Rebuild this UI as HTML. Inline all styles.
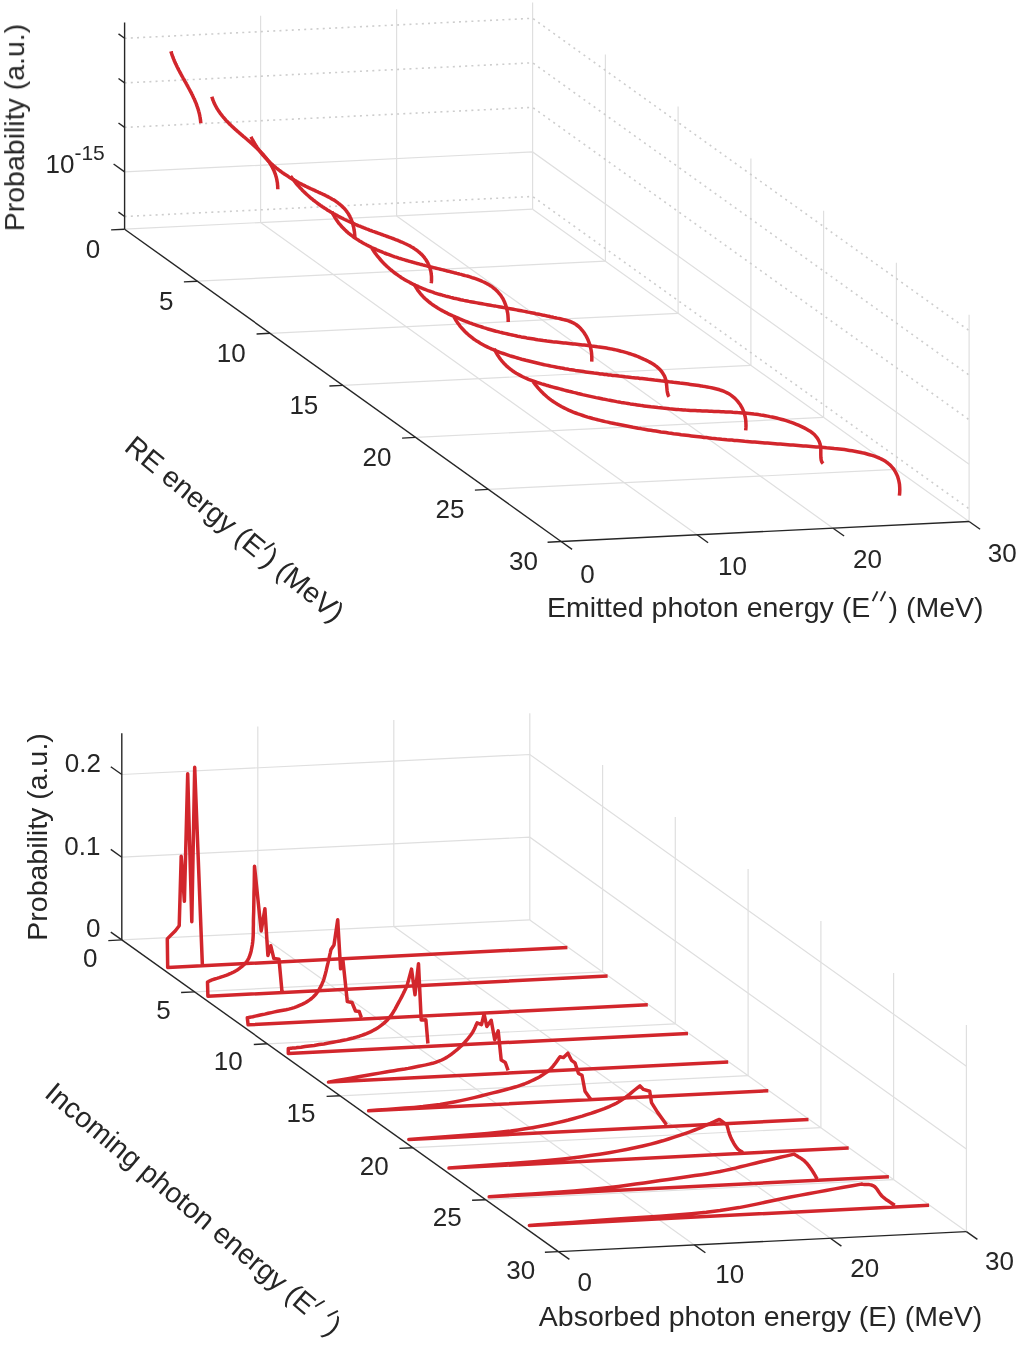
<!DOCTYPE html>
<html><head><meta charset="utf-8"><style>
html,body{margin:0;padding:0;background:#fff;}
svg{display:block;font-family:"Liberation Sans",sans-serif;}
</style></head><body>
<svg width="1020" height="1346" viewBox="0 0 1020 1346">
<rect width="1020" height="1346" fill="#fff"/>
<g>
<line x1="124.6" y1="229.2" x2="532.6" y2="209.2" stroke="#dfdfdf" stroke-width="1.2" />
<line x1="197.3" y1="281.2" x2="605.4" y2="261.2" stroke="#dfdfdf" stroke-width="1.2" />
<line x1="270.1" y1="333.3" x2="678.1" y2="313.3" stroke="#dfdfdf" stroke-width="1.2" />
<line x1="342.9" y1="385.4" x2="750.9" y2="365.3" stroke="#dfdfdf" stroke-width="1.2" />
<line x1="415.6" y1="437.4" x2="823.6" y2="417.4" stroke="#dfdfdf" stroke-width="1.2" />
<line x1="488.4" y1="489.4" x2="896.4" y2="469.4" stroke="#dfdfdf" stroke-width="1.2" />
<line x1="260.6" y1="222.5" x2="697.1" y2="534.8" stroke="#dfdfdf" stroke-width="1.2" />
<line x1="396.6" y1="215.9" x2="833.1" y2="528.2" stroke="#dfdfdf" stroke-width="1.2" />
<line x1="532.6" y1="209.2" x2="969.1" y2="521.5" stroke="#dfdfdf" stroke-width="1.2" />
<line x1="260.6" y1="222.5" x2="260.6" y2="15.8" stroke="#dfdfdf" stroke-width="1.2" />
<line x1="396.6" y1="215.9" x2="396.6" y2="9.2" stroke="#dfdfdf" stroke-width="1.2" />
<line x1="532.6" y1="209.2" x2="532.6" y2="2.5" stroke="#dfdfdf" stroke-width="1.2" />
<line x1="605.4" y1="261.2" x2="605.4" y2="54.5" stroke="#dfdfdf" stroke-width="1.2" />
<line x1="678.1" y1="313.3" x2="678.1" y2="106.6" stroke="#dfdfdf" stroke-width="1.2" />
<line x1="750.9" y1="365.3" x2="750.9" y2="158.6" stroke="#dfdfdf" stroke-width="1.2" />
<line x1="823.6" y1="417.4" x2="823.6" y2="210.7" stroke="#dfdfdf" stroke-width="1.2" />
<line x1="896.4" y1="469.4" x2="896.4" y2="262.7" stroke="#dfdfdf" stroke-width="1.2" />
<line x1="969.1" y1="521.5" x2="969.1" y2="314.8" stroke="#dfdfdf" stroke-width="1.2" />
<polyline points="124.6,171.9 532.6,151.9 969.1,464.2" fill="none" stroke="#dfdfdf" stroke-width="1.2" />
<polyline points="124.6,216.5 532.6,196.5 969.1,508.8" fill="none" stroke="#cdcdcd" stroke-width="1.6" stroke-dasharray="2 4.2"/>
<polyline points="124.6,127.4 532.6,107.4 969.1,419.7" fill="none" stroke="#cdcdcd" stroke-width="1.6" stroke-dasharray="2 4.2"/>
<polyline points="124.6,82.9 532.6,62.8 969.1,375.1" fill="none" stroke="#cdcdcd" stroke-width="1.6" stroke-dasharray="2 4.2"/>
<polyline points="124.6,38.3 532.6,18.3 969.1,330.6" fill="none" stroke="#cdcdcd" stroke-width="1.6" stroke-dasharray="2 4.2"/>
<line x1="121.8" y1="939.9" x2="529.8" y2="919.9" stroke="#dfdfdf" stroke-width="1.2" />
<line x1="194.6" y1="991.9" x2="602.6" y2="971.8" stroke="#dfdfdf" stroke-width="1.2" />
<line x1="267.3" y1="1043.8" x2="675.3" y2="1023.8" stroke="#dfdfdf" stroke-width="1.2" />
<line x1="340.1" y1="1095.8" x2="748.1" y2="1075.7" stroke="#dfdfdf" stroke-width="1.2" />
<line x1="412.9" y1="1147.7" x2="820.9" y2="1127.7" stroke="#dfdfdf" stroke-width="1.2" />
<line x1="485.6" y1="1199.7" x2="893.6" y2="1179.6" stroke="#dfdfdf" stroke-width="1.2" />
<line x1="257.8" y1="933.2" x2="694.4" y2="1244.9" stroke="#dfdfdf" stroke-width="1.2" />
<line x1="393.8" y1="926.6" x2="830.4" y2="1238.3" stroke="#dfdfdf" stroke-width="1.2" />
<line x1="529.8" y1="919.9" x2="966.4" y2="1231.6" stroke="#dfdfdf" stroke-width="1.2" />
<line x1="257.8" y1="933.2" x2="257.8" y2="726.5" stroke="#dfdfdf" stroke-width="1.2" />
<line x1="393.8" y1="926.6" x2="393.8" y2="719.9" stroke="#dfdfdf" stroke-width="1.2" />
<line x1="529.8" y1="919.9" x2="529.8" y2="713.2" stroke="#dfdfdf" stroke-width="1.2" />
<line x1="602.6" y1="971.8" x2="602.6" y2="765.1" stroke="#dfdfdf" stroke-width="1.2" />
<line x1="675.3" y1="1023.8" x2="675.3" y2="817.1" stroke="#dfdfdf" stroke-width="1.2" />
<line x1="748.1" y1="1075.7" x2="748.1" y2="869.0" stroke="#dfdfdf" stroke-width="1.2" />
<line x1="820.9" y1="1127.7" x2="820.9" y2="921.0" stroke="#dfdfdf" stroke-width="1.2" />
<line x1="893.6" y1="1179.6" x2="893.6" y2="972.9" stroke="#dfdfdf" stroke-width="1.2" />
<line x1="966.4" y1="1231.6" x2="966.4" y2="1024.9" stroke="#dfdfdf" stroke-width="1.2" />
<polyline points="121.8,857.2 529.8,837.2 966.4,1148.9" fill="none" stroke="#dfdfdf" stroke-width="1.2" />
<polyline points="121.8,774.5 529.8,754.5 966.4,1066.2" fill="none" stroke="#dfdfdf" stroke-width="1.2" />
<line x1="124.6" y1="229.2" x2="124.6" y2="22.5" stroke="#262626" stroke-width="1.4" />
<line x1="124.6" y1="229.2" x2="561.1" y2="541.5" stroke="#262626" stroke-width="1.4" />
<line x1="561.1" y1="541.5" x2="969.1" y2="521.5" stroke="#262626" stroke-width="1.4" />
<line x1="124.6" y1="229.2" x2="111.1" y2="229.9" stroke="#262626" stroke-width="1.4" />
<line x1="197.3" y1="281.2" x2="183.9" y2="281.9" stroke="#262626" stroke-width="1.4" />
<line x1="270.1" y1="333.3" x2="256.6" y2="334.0" stroke="#262626" stroke-width="1.4" />
<line x1="342.9" y1="385.4" x2="329.4" y2="386.0" stroke="#262626" stroke-width="1.4" />
<line x1="415.6" y1="437.4" x2="402.1" y2="438.1" stroke="#262626" stroke-width="1.4" />
<line x1="488.4" y1="489.4" x2="474.9" y2="490.1" stroke="#262626" stroke-width="1.4" />
<line x1="561.1" y1="541.5" x2="547.6" y2="542.2" stroke="#262626" stroke-width="1.4" />
<line x1="561.1" y1="541.5" x2="572.1" y2="549.4" stroke="#262626" stroke-width="1.4" />
<line x1="697.1" y1="534.8" x2="708.1" y2="542.7" stroke="#262626" stroke-width="1.4" />
<line x1="833.1" y1="528.2" x2="844.1" y2="536.0" stroke="#262626" stroke-width="1.4" />
<line x1="969.1" y1="521.5" x2="980.1" y2="529.3" stroke="#262626" stroke-width="1.4" />
<line x1="124.6" y1="171.9" x2="113.6" y2="164.0" stroke="#262626" stroke-width="1.4" />
<line x1="124.6" y1="216.5" x2="118.5" y2="212.1" stroke="#262626" stroke-width="1.4" />
<line x1="124.6" y1="127.4" x2="118.5" y2="123.0" stroke="#262626" stroke-width="1.4" />
<line x1="124.6" y1="82.9" x2="118.5" y2="78.5" stroke="#262626" stroke-width="1.4" />
<line x1="124.6" y1="38.3" x2="118.5" y2="33.9" stroke="#262626" stroke-width="1.4" />
<line x1="121.8" y1="939.9" x2="121.8" y2="733.2" stroke="#262626" stroke-width="1.4" />
<line x1="121.8" y1="939.9" x2="558.4" y2="1251.6" stroke="#262626" stroke-width="1.4" />
<line x1="558.4" y1="1251.6" x2="966.4" y2="1231.6" stroke="#262626" stroke-width="1.4" />
<line x1="121.8" y1="939.9" x2="108.3" y2="940.6" stroke="#262626" stroke-width="1.4" />
<line x1="194.6" y1="991.9" x2="181.1" y2="992.5" stroke="#262626" stroke-width="1.4" />
<line x1="267.3" y1="1043.8" x2="253.8" y2="1044.5" stroke="#262626" stroke-width="1.4" />
<line x1="340.1" y1="1095.8" x2="326.6" y2="1096.4" stroke="#262626" stroke-width="1.4" />
<line x1="412.9" y1="1147.7" x2="399.4" y2="1148.4" stroke="#262626" stroke-width="1.4" />
<line x1="485.6" y1="1199.7" x2="472.1" y2="1200.3" stroke="#262626" stroke-width="1.4" />
<line x1="558.4" y1="1251.6" x2="544.9" y2="1252.3" stroke="#262626" stroke-width="1.4" />
<line x1="558.4" y1="1251.6" x2="569.4" y2="1259.4" stroke="#262626" stroke-width="1.4" />
<line x1="694.4" y1="1244.9" x2="705.4" y2="1252.8" stroke="#262626" stroke-width="1.4" />
<line x1="830.4" y1="1238.3" x2="841.4" y2="1246.1" stroke="#262626" stroke-width="1.4" />
<line x1="966.4" y1="1231.6" x2="977.4" y2="1239.4" stroke="#262626" stroke-width="1.4" />
<line x1="121.8" y1="939.9" x2="110.8" y2="932.1" stroke="#262626" stroke-width="1.4" />
<line x1="121.8" y1="857.2" x2="110.8" y2="849.4" stroke="#262626" stroke-width="1.4" />
<line x1="121.8" y1="774.5" x2="110.8" y2="766.7" stroke="#262626" stroke-width="1.4" />
<g fill="none" stroke="#d2262c" stroke-width="3.5" stroke-linejoin="round" stroke-linecap="butt">
<path d="M170.9,51.3 L171.0,51.8 L171.2,52.2 L171.3,52.7 L171.5,53.2 L171.6,53.6 L171.8,54.1 L171.9,54.6 L172.1,55.0 L172.3,55.5 L172.4,56.0 L172.6,56.4 L172.8,56.9 L173.0,57.3 L173.1,57.8 L173.3,58.3 L173.5,58.7 L173.7,59.2 L173.9,59.6 L174.1,60.1 L174.2,60.5 L174.4,61.0 L174.6,61.4 L174.8,61.9 L175.0,62.4 L175.2,62.8 L175.4,63.3 L175.6,63.7 L175.9,64.1 L176.1,64.6 L176.3,65.0 L176.5,65.5 L176.7,65.9 L176.9,66.4 L177.1,66.8 L177.4,67.3 L177.6,67.7 L177.8,68.1 L178.0,68.6 L178.2,69.0 L178.5,69.5 L178.7,69.9 L178.9,70.3 L179.2,70.8 L179.4,71.2 L179.6,71.7 L179.9,72.1 L180.1,72.5 L180.3,73.0 L180.6,73.4 L180.8,73.8 L181.0,74.3 L181.3,74.7 L181.5,75.1 L181.7,75.6 L182.0,76.0 L182.2,76.4 L182.5,76.9 L182.7,77.3 L183.0,77.7 L183.2,78.2 L183.4,78.6 L183.7,79.0 L183.9,79.5 L184.2,79.9 L184.4,80.3 L184.6,80.8 L184.9,81.2 L185.1,81.6 L185.4,82.1 L185.6,82.5 L185.9,82.9 L186.1,83.4 L186.3,83.8 L186.6,84.2 L186.8,84.7 L187.1,85.1 L187.3,85.5 L187.5,86.0 L187.8,86.4 L188.0,86.8 L188.3,87.3 L188.5,87.7 L188.7,88.1 L189.0,88.6 L189.2,89.0 L189.4,89.4 L189.7,89.9 L189.9,90.3 L190.1,90.8 L190.4,91.2 L190.6,91.6 L190.8,92.1 L191.0,92.5 L191.3,92.9 L191.5,93.4 L191.7,93.8 L191.9,94.3 L192.2,94.7 L192.4,95.1 L192.6,95.6 L192.8,96.0 L193.0,96.5 L193.2,96.9 L193.4,97.4 L193.6,97.8 L193.8,98.3 L194.1,98.7 L194.3,99.1 L194.5,99.6 L194.7,100.0 L194.8,100.5 L195.0,100.9 L195.2,101.4 L195.4,101.8 L195.6,102.3 L195.8,102.7 L196.0,103.2 L196.2,103.7 L196.3,104.1 L196.5,104.6 L196.7,105.0 L196.8,105.5 L197.0,106.0 L197.2,106.4 L197.3,106.9 L197.5,107.3 L197.6,107.8 L197.8,108.3 L198.0,108.7 L198.1,109.2 L198.2,109.7 L198.4,110.1 L198.5,110.6 L198.7,111.1 L198.8,111.6 L198.9,112.0 L199.0,112.5 L199.2,113.0 L199.3,113.5 L199.4,113.9 L199.5,114.4 L199.6,114.9 L199.7,115.4 L199.8,115.9 L199.9,116.4 L200.0,116.9 L200.1,117.3 L200.2,117.8 L200.2,118.3 L200.3,118.8 L200.4,119.3 L200.5,119.8 L200.5,120.3 L200.6,120.8 L200.6,121.3 L200.7,121.8 L200.7,122.3 L200.8,122.8 L200.8,123.3"/>
<path d="M211.8,96.7 L212.0,97.4 L212.3,98.1 L212.5,98.8 L212.7,99.5 L213.0,100.2 L213.3,100.9 L213.6,101.6 L213.8,102.3 L214.1,102.9 L214.4,103.6 L214.8,104.3 L215.1,104.9 L215.4,105.6 L215.8,106.2 L216.1,106.9 L216.5,107.5 L216.8,108.1 L217.2,108.8 L217.6,109.4 L218.0,110.0 L218.4,110.6 L218.8,111.2 L219.2,111.8 L219.6,112.4 L220.0,113.0 L220.4,113.6 L220.9,114.2 L221.3,114.7 L221.8,115.3 L222.2,115.9 L222.7,116.5 L223.1,117.0 L223.6,117.6 L224.1,118.1 L224.6,118.7 L225.0,119.2 L225.5,119.8 L226.0,120.3 L226.5,120.9 L227.0,121.4 L227.6,121.9 L228.1,122.5 L228.6,123.0 L229.1,123.5 L229.6,124.1 L230.2,124.6 L230.7,125.1 L231.2,125.6 L231.8,126.1 L232.3,126.6 L232.9,127.1 L233.4,127.7 L234.0,128.2 L234.5,128.7 L235.1,129.2 L235.6,129.7 L236.2,130.2 L236.8,130.7 L237.3,131.2 L237.9,131.7 L238.5,132.1 L239.0,132.6 L239.6,133.1 L240.2,133.6 L240.7,134.1 L241.3,134.6 L241.9,135.1 L242.5,135.6 L243.0,136.1 L243.6,136.6 L244.2,137.0 L244.8,137.5 L245.3,138.0 L245.9,138.5 L246.5,139.0 L247.1,139.5 L247.6,140.0 L248.2,140.5 L248.8,140.9 L249.3,141.4 L249.9,141.9 L250.5,142.4 L251.0,142.9 L251.6,143.4 L252.2,143.9 L252.7,144.4 L253.3,144.9 L253.8,145.4 L254.4,145.9 L254.9,146.4 L255.5,146.9 L256.0,147.4 L256.5,147.9 L257.1,148.4 L257.6,148.9 L258.1,149.4 L258.7,149.9 L259.2,150.4 L259.7,150.9 L260.2,151.4 L260.7,152.0 L261.2,152.5 L261.7,153.0 L262.2,153.5 L262.7,154.1 L263.2,154.6 L263.7,155.1 L264.1,155.7 L264.6,156.2 L265.1,156.8 L265.5,157.3 L266.0,157.9 L266.4,158.4 L266.9,159.0 L267.3,159.5 L267.7,160.1 L268.1,160.7 L268.6,161.3 L269.0,161.8 L269.4,162.4 L269.8,163.0 L270.1,163.6 L270.5,164.2 L270.9,164.8 L271.2,165.4 L271.6,166.0 L271.9,166.6 L272.3,167.2 L272.6,167.8 L272.9,168.5 L273.2,169.1 L273.5,169.7 L273.8,170.4 L274.1,171.0 L274.4,171.7 L274.6,172.4 L274.9,173.0 L275.1,173.7 L275.4,174.4 L275.6,175.0 L275.8,175.7 L276.0,176.4 L276.2,177.1 L276.4,177.8 L276.6,178.6 L276.7,179.3 L276.9,180.0 L277.0,180.7 L277.1,181.5 L277.3,182.2 L277.4,183.0 L277.5,183.7 L277.5,184.5 L277.6,185.3 L277.7,186.1 L277.7,186.8 L277.7,187.6 L277.8,188.4 L277.8,189.3"/>
<path d="M251.0,136.7 L251.4,137.6 L251.8,138.5 L252.3,139.4 L252.8,140.2 L253.2,141.1 L253.7,142.0 L254.2,142.8 L254.7,143.6 L255.2,144.5 L255.7,145.3 L256.2,146.1 L256.8,146.9 L257.3,147.7 L257.9,148.5 L258.4,149.3 L259.0,150.1 L259.6,150.8 L260.1,151.6 L260.7,152.3 L261.3,153.1 L261.9,153.8 L262.5,154.6 L263.1,155.3 L263.8,156.0 L264.4,156.7 L265.0,157.4 L265.7,158.1 L266.3,158.8 L267.0,159.5 L267.6,160.2 L268.3,160.8 L269.0,161.5 L269.6,162.1 L270.3,162.8 L271.0,163.4 L271.7,164.1 L272.4,164.7 L273.1,165.3 L273.9,165.9 L274.6,166.6 L275.3,167.2 L276.0,167.8 L276.8,168.4 L277.5,169.0 L278.3,169.5 L279.0,170.1 L279.8,170.7 L280.5,171.3 L281.3,171.8 L282.1,172.4 L282.9,172.9 L283.7,173.5 L284.4,174.0 L285.2,174.6 L286.0,175.1 L286.8,175.6 L287.6,176.1 L288.4,176.6 L289.3,177.2 L290.1,177.7 L290.9,178.2 L291.7,178.7 L292.6,179.2 L293.4,179.6 L294.2,180.1 L295.1,180.6 L295.9,181.1 L296.7,181.6 L297.6,182.0 L298.4,182.5 L299.3,183.0 L300.2,183.4 L301.0,183.9 L301.9,184.3 L302.7,184.8 L303.6,185.2 L304.5,185.6 L305.4,186.1 L306.2,186.5 L307.1,186.9 L308.0,187.4 L308.9,187.8 L309.8,188.2 L310.6,188.6 L311.5,189.0 L312.4,189.4 L313.3,189.8 L314.2,190.2 L315.1,190.6 L316.0,191.1 L316.9,191.5 L317.8,191.9 L318.6,192.3 L319.5,192.7 L320.4,193.1 L321.3,193.5 L322.2,193.9 L323.0,194.3 L323.9,194.7 L324.8,195.1 L325.6,195.6 L326.5,196.0 L327.3,196.4 L328.2,196.9 L329.0,197.3 L329.9,197.8 L330.7,198.2 L331.5,198.7 L332.3,199.2 L333.1,199.6 L333.9,200.1 L334.7,200.6 L335.5,201.1 L336.2,201.6 L337.0,202.2 L337.7,202.7 L338.5,203.3 L339.2,203.8 L339.9,204.4 L340.6,205.0 L341.3,205.6 L341.9,206.2 L342.6,206.8 L343.2,207.4 L343.9,208.1 L344.5,208.7 L345.1,209.4 L345.7,210.1 L346.2,210.8 L346.8,211.6 L347.3,212.3 L347.9,213.1 L348.4,213.9 L348.8,214.7 L349.3,215.5 L349.8,216.3 L350.2,217.2 L350.6,218.0 L351.0,218.9 L351.4,219.9 L351.7,220.8 L352.0,221.7 L352.4,222.7 L352.7,223.7 L352.9,224.6 L353.2,225.6 L353.4,226.6 L353.7,227.6 L353.9,228.6 L354.0,229.7 L354.2,230.7 L354.4,231.7 L354.5,232.7 L354.6,233.7 L354.7,234.7 L354.8,235.7 L354.8,236.7 L354.9,237.7 L354.9,238.7"/>
<path d="M290.6,176.1 L291.3,177.0 L292.0,178.0 L292.7,178.9 L293.4,179.9 L294.1,180.8 L294.8,181.7 L295.6,182.7 L296.3,183.6 L297.1,184.5 L297.8,185.3 L298.6,186.2 L299.4,187.1 L300.2,187.9 L301.0,188.8 L301.8,189.6 L302.6,190.5 L303.4,191.3 L304.3,192.1 L305.1,192.9 L306.0,193.7 L306.8,194.5 L307.7,195.3 L308.5,196.0 L309.4,196.8 L310.3,197.6 L311.2,198.3 L312.1,199.0 L313.0,199.8 L313.9,200.5 L314.8,201.2 L315.7,201.9 L316.7,202.6 L317.6,203.3 L318.5,204.0 L319.5,204.7 L320.4,205.4 L321.4,206.0 L322.3,206.7 L323.3,207.3 L324.3,208.0 L325.3,208.6 L326.3,209.2 L327.2,209.9 L328.2,210.5 L329.2,211.1 L330.2,211.7 L331.2,212.3 L332.3,212.9 L333.3,213.5 L334.3,214.0 L335.3,214.6 L336.3,215.2 L337.4,215.7 L338.4,216.3 L339.5,216.8 L340.5,217.4 L341.5,217.9 L342.6,218.4 L343.7,219.0 L344.7,219.5 L345.8,220.0 L346.8,220.5 L347.9,221.0 L349.0,221.5 L350.0,222.0 L351.1,222.5 L352.2,223.0 L353.3,223.4 L354.3,223.9 L355.4,224.4 L356.5,224.8 L357.6,225.3 L358.7,225.8 L359.8,226.2 L360.9,226.7 L362.0,227.1 L363.1,227.5 L364.2,228.0 L365.3,228.4 L366.3,228.8 L367.4,229.2 L368.5,229.6 L369.6,230.1 L370.7,230.5 L371.8,230.9 L372.9,231.3 L374.1,231.7 L375.2,232.1 L376.3,232.5 L377.4,232.9 L378.5,233.3 L379.6,233.7 L380.7,234.1 L381.8,234.5 L382.9,234.9 L384.0,235.3 L385.1,235.7 L386.2,236.1 L387.3,236.5 L388.4,236.9 L389.5,237.3 L390.6,237.7 L391.7,238.1 L392.8,238.5 L393.9,238.9 L395.0,239.4 L396.1,239.8 L397.2,240.2 L398.3,240.7 L399.4,241.1 L400.5,241.6 L401.6,242.0 L402.7,242.5 L403.8,243.0 L404.8,243.5 L405.9,244.0 L407.0,244.5 L408.0,245.0 L409.1,245.5 L410.1,246.1 L411.1,246.7 L412.1,247.2 L413.1,247.8 L414.1,248.5 L415.0,249.1 L415.9,249.7 L416.9,250.4 L417.8,251.1 L418.6,251.8 L419.5,252.5 L420.3,253.3 L421.2,254.0 L421.9,254.8 L422.7,255.6 L423.4,256.5 L424.2,257.3 L424.8,258.2 L425.5,259.1 L426.1,260.0 L426.7,261.0 L427.3,262.0 L427.8,262.9 L428.3,264.0 L428.8,265.0 L429.2,266.1 L429.6,267.1 L430.0,268.2 L430.3,269.4 L430.6,270.5 L430.9,271.7 L431.1,272.9 L431.2,274.1 L431.4,275.4 L431.5,276.6 L431.5,277.9 L431.5,279.2 L431.5,280.6 L431.4,281.9 L431.2,283.3"/>
<path d="M331.9,211.8 L332.5,213.1 L333.2,214.4 L333.9,215.7 L334.6,216.9 L335.3,218.1 L336.1,219.3 L336.9,220.5 L337.7,221.6 L338.5,222.8 L339.4,223.9 L340.3,224.9 L341.2,226.0 L342.1,227.0 L343.1,228.0 L344.1,229.0 L345.1,230.0 L346.1,230.9 L347.1,231.9 L348.1,232.8 L349.2,233.7 L350.3,234.5 L351.4,235.4 L352.5,236.2 L353.6,237.0 L354.7,237.8 L355.9,238.6 L357.1,239.4 L358.2,240.1 L359.4,240.9 L360.6,241.6 L361.8,242.3 L363.0,243.0 L364.3,243.7 L365.5,244.3 L366.7,245.0 L368.0,245.6 L369.2,246.2 L370.5,246.9 L371.7,247.5 L373.0,248.1 L374.2,248.6 L375.5,249.2 L376.8,249.8 L378.0,250.3 L379.3,250.9 L380.6,251.4 L381.9,251.9 L383.2,252.5 L384.4,253.0 L385.7,253.5 L387.0,254.0 L388.3,254.4 L389.6,254.9 L390.9,255.4 L392.2,255.9 L393.5,256.3 L394.8,256.8 L396.1,257.2 L397.4,257.6 L398.7,258.1 L400.1,258.5 L401.4,258.9 L402.7,259.3 L404.0,259.7 L405.3,260.1 L406.7,260.5 L408.0,260.9 L409.3,261.3 L410.6,261.6 L412.0,262.0 L413.3,262.4 L414.7,262.8 L416.0,263.1 L417.3,263.5 L418.7,263.8 L420.0,264.2 L421.4,264.5 L422.7,264.9 L424.1,265.2 L425.4,265.6 L426.8,265.9 L428.1,266.3 L429.5,266.6 L430.8,266.9 L432.2,267.3 L433.6,267.6 L434.9,267.9 L436.3,268.3 L437.7,268.6 L439.0,268.9 L440.4,269.3 L441.8,269.6 L443.1,269.9 L444.5,270.3 L445.9,270.6 L447.2,271.0 L448.6,271.3 L450.0,271.6 L451.4,272.0 L452.8,272.3 L454.1,272.7 L455.5,273.0 L456.9,273.4 L458.3,273.7 L459.7,274.1 L461.1,274.4 L462.4,274.8 L463.8,275.2 L465.2,275.6 L466.6,275.9 L468.0,276.3 L469.3,276.7 L470.7,277.1 L472.0,277.6 L473.4,278.0 L474.7,278.4 L476.1,278.9 L477.4,279.4 L478.7,279.9 L480.0,280.4 L481.2,280.9 L482.5,281.5 L483.7,282.0 L485.0,282.6 L486.2,283.2 L487.4,283.9 L488.5,284.5 L489.7,285.2 L490.8,285.9 L491.9,286.7 L492.9,287.5 L494.0,288.3 L495.0,289.1 L495.9,290.0 L496.9,290.9 L497.8,291.8 L498.7,292.8 L499.5,293.8 L500.4,294.8 L501.1,295.9 L501.9,297.1 L502.6,298.2 L503.3,299.4 L503.9,300.7 L504.5,302.0 L505.0,303.3 L505.5,304.6 L506.0,306.0 L506.4,307.4 L506.8,308.9 L507.1,310.3 L507.4,311.8 L507.7,313.2 L507.9,314.7 L508.0,316.2 L508.1,317.7 L508.2,319.1 L508.2,320.6 L508.2,322.1"/>
<path d="M371.9,248.4 L372.9,249.9 L373.9,251.4 L374.9,252.8 L376.0,254.2 L377.0,255.6 L378.1,256.9 L379.2,258.2 L380.3,259.5 L381.4,260.8 L382.5,262.0 L383.7,263.2 L384.9,264.4 L386.1,265.6 L387.3,266.7 L388.5,267.8 L389.7,268.9 L391.0,270.0 L392.3,271.0 L393.5,272.0 L394.8,273.0 L396.2,274.0 L397.5,274.9 L398.8,275.9 L400.2,276.8 L401.5,277.7 L402.9,278.6 L404.3,279.4 L405.7,280.2 L407.1,281.0 L408.6,281.8 L410.0,282.6 L411.5,283.4 L412.9,284.1 L414.4,284.8 L415.9,285.5 L417.4,286.2 L418.9,286.9 L420.4,287.5 L421.9,288.2 L423.5,288.8 L425.0,289.4 L426.5,290.0 L428.1,290.6 L429.7,291.1 L431.2,291.7 L432.8,292.2 L434.4,292.8 L436.0,293.3 L437.6,293.8 L439.2,294.3 L440.8,294.7 L442.4,295.2 L444.1,295.6 L445.7,296.1 L447.3,296.5 L449.0,296.9 L450.6,297.4 L452.3,297.8 L453.9,298.2 L455.6,298.5 L457.2,298.9 L458.9,299.3 L460.5,299.7 L462.2,300.0 L463.9,300.4 L465.5,300.7 L467.2,301.0 L468.9,301.4 L470.5,301.7 L472.2,302.0 L473.9,302.3 L475.6,302.6 L477.2,302.9 L478.9,303.2 L480.6,303.5 L482.2,303.8 L483.9,304.1 L485.6,304.4 L487.2,304.7 L488.9,305.0 L490.6,305.3 L492.2,305.6 L493.9,305.9 L495.5,306.1 L497.2,306.4 L498.8,306.7 L500.4,307.0 L502.1,307.3 L503.7,307.6 L505.3,307.9 L507.0,308.1 L508.6,308.4 L510.2,308.7 L511.8,309.0 L513.4,309.3 L515.0,309.6 L516.6,309.9 L518.2,310.2 L519.8,310.5 L521.4,310.8 L523.0,311.1 L524.7,311.4 L526.3,311.7 L527.9,312.1 L529.5,312.4 L531.1,312.7 L532.7,313.0 L534.3,313.3 L535.9,313.7 L537.5,314.0 L539.1,314.3 L540.7,314.6 L542.3,315.0 L543.9,315.3 L545.6,315.6 L547.2,316.0 L548.8,316.3 L550.4,316.7 L552.1,317.0 L553.7,317.4 L555.4,317.7 L557.0,318.1 L558.7,318.4 L560.3,318.8 L562.0,319.2 L563.6,319.6 L565.3,320.0 L566.9,320.4 L568.5,320.9 L570.1,321.5 L571.6,322.1 L573.1,322.8 L574.6,323.6 L576.0,324.5 L577.3,325.5 L578.6,326.5 L579.8,327.6 L580.9,328.8 L582.0,330.1 L583.1,331.4 L584.1,332.8 L585.0,334.2 L585.9,335.6 L586.7,337.1 L587.5,338.7 L588.2,340.3 L588.8,341.9 L589.4,343.5 L589.9,345.2 L590.4,346.8 L590.8,348.5 L591.1,350.2 L591.4,351.9 L591.6,353.5 L591.7,355.2 L591.8,356.9 L591.8,358.5 L591.8,360.1 L591.7,361.7"/>
<path d="M414.2,284.2 L415.1,285.9 L416.1,287.5 L417.1,289.1 L418.1,290.7 L419.3,292.2 L420.4,293.6 L421.6,295.0 L422.9,296.4 L424.2,297.7 L425.5,299.0 L426.9,300.2 L428.3,301.4 L429.7,302.5 L431.2,303.7 L432.7,304.8 L434.2,305.8 L435.8,306.8 L437.3,307.8 L438.9,308.8 L440.6,309.7 L442.2,310.6 L443.9,311.5 L445.5,312.4 L447.2,313.2 L448.9,314.1 L450.6,314.9 L452.3,315.7 L454.0,316.4 L455.8,317.2 L457.5,317.9 L459.2,318.7 L460.9,319.4 L462.6,320.1 L464.4,320.8 L466.1,321.5 L467.9,322.1 L469.6,322.8 L471.3,323.4 L473.1,324.1 L474.8,324.7 L476.6,325.3 L478.3,325.9 L480.1,326.4 L481.9,327.0 L483.6,327.6 L485.4,328.1 L487.1,328.7 L488.9,329.2 L490.7,329.7 L492.5,330.2 L494.2,330.7 L496.0,331.2 L497.8,331.6 L499.6,332.1 L501.4,332.5 L503.2,333.0 L505.0,333.4 L506.8,333.8 L508.6,334.2 L510.4,334.6 L512.2,335.0 L514.0,335.4 L515.8,335.8 L517.6,336.2 L519.4,336.5 L521.2,336.9 L523.1,337.2 L524.9,337.5 L526.7,337.9 L528.5,338.2 L530.4,338.5 L532.2,338.8 L534.0,339.1 L535.9,339.4 L537.7,339.7 L539.6,339.9 L541.4,340.2 L543.2,340.5 L545.1,340.7 L546.9,341.0 L548.8,341.2 L550.6,341.4 L552.5,341.7 L554.4,341.9 L556.2,342.1 L558.1,342.3 L560.0,342.5 L561.8,342.7 L563.7,342.9 L565.6,343.1 L567.4,343.3 L569.3,343.5 L571.2,343.7 L573.1,343.9 L574.9,344.1 L576.8,344.3 L578.7,344.5 L580.6,344.7 L582.4,344.9 L584.3,345.1 L586.2,345.3 L588.1,345.5 L589.9,345.7 L591.8,346.0 L593.6,346.2 L595.5,346.4 L597.4,346.7 L599.2,346.9 L601.1,347.2 L602.9,347.5 L604.8,347.8 L606.6,348.1 L608.4,348.4 L610.2,348.8 L612.1,349.1 L613.9,349.5 L615.7,349.9 L617.5,350.3 L619.3,350.7 L621.1,351.2 L622.9,351.6 L624.6,352.1 L626.4,352.6 L628.2,353.2 L629.9,353.7 L631.7,354.3 L633.4,354.9 L635.1,355.5 L636.9,356.2 L638.6,356.8 L640.3,357.6 L641.9,358.3 L643.6,359.1 L645.3,359.8 L646.9,360.7 L648.6,361.5 L650.2,362.4 L651.8,363.3 L653.4,364.3 L654.9,365.3 L656.4,366.4 L657.8,367.6 L659.1,368.8 L660.4,370.1 L661.6,371.5 L662.6,373.0 L663.6,374.6 L664.5,376.2 L665.2,378.0 L665.8,379.9 L666.2,381.9 L666.5,384.1 L666.7,386.2 L666.9,388.4 L667.1,390.5 L667.4,392.4 L667.8,394.1 L668.3,395.6 L669.1,396.8"/>
<path d="M453.9,316.8 L455.0,318.7 L456.1,320.6 L457.3,322.4 L458.6,324.1 L459.8,325.8 L461.2,327.5 L462.6,329.0 L464.0,330.5 L465.4,332.0 L466.9,333.4 L468.5,334.8 L470.1,336.1 L471.7,337.4 L473.3,338.7 L475.0,339.9 L476.7,341.0 L478.5,342.1 L480.3,343.2 L482.1,344.2 L483.9,345.2 L485.7,346.2 L487.6,347.1 L489.5,348.0 L491.4,348.9 L493.4,349.7 L495.3,350.5 L497.3,351.3 L499.3,352.1 L501.3,352.8 L503.3,353.5 L505.3,354.2 L507.3,354.9 L509.4,355.6 L511.4,356.2 L513.4,356.8 L515.5,357.4 L517.5,358.0 L519.6,358.6 L521.6,359.2 L523.7,359.7 L525.8,360.3 L527.8,360.8 L529.9,361.3 L531.9,361.8 L534.0,362.3 L536.0,362.8 L538.1,363.3 L540.2,363.8 L542.2,364.2 L544.3,364.7 L546.3,365.1 L548.4,365.5 L550.5,366.0 L552.5,366.4 L554.6,366.8 L556.7,367.2 L558.7,367.6 L560.8,367.9 L562.9,368.3 L564.9,368.7 L567.0,369.0 L569.1,369.4 L571.2,369.7 L573.2,370.0 L575.3,370.4 L577.4,370.7 L579.4,371.0 L581.5,371.3 L583.6,371.6 L585.7,371.9 L587.7,372.2 L589.8,372.5 L591.9,372.8 L594.0,373.1 L596.1,373.3 L598.1,373.6 L600.2,373.9 L602.3,374.1 L604.4,374.4 L606.5,374.6 L608.5,374.9 L610.6,375.1 L612.7,375.4 L614.8,375.6 L616.9,375.8 L619.0,376.1 L621.1,376.3 L623.1,376.5 L625.2,376.8 L627.3,377.0 L629.4,377.2 L631.5,377.5 L633.6,377.7 L635.7,377.9 L637.8,378.1 L639.9,378.4 L641.9,378.6 L644.0,378.8 L646.1,379.0 L648.2,379.3 L650.3,379.5 L652.4,379.7 L654.5,380.0 L656.6,380.2 L658.7,380.4 L660.8,380.7 L662.9,380.9 L665.0,381.2 L667.1,381.4 L669.2,381.7 L671.3,381.9 L673.4,382.2 L675.5,382.4 L677.7,382.7 L679.8,383.0 L681.9,383.2 L684.0,383.5 L686.1,383.8 L688.2,384.1 L690.3,384.4 L692.4,384.7 L694.6,385.0 L696.7,385.3 L698.8,385.6 L700.9,385.9 L703.1,386.3 L705.2,386.6 L707.3,387.0 L709.4,387.4 L711.5,387.8 L713.6,388.2 L715.6,388.7 L717.6,389.2 L719.6,389.8 L721.6,390.5 L723.5,391.2 L725.3,392.0 L727.1,392.9 L728.9,393.8 L730.6,394.9 L732.2,396.1 L733.7,397.3 L735.2,398.6 L736.6,400.1 L737.9,401.6 L739.1,403.2 L740.3,404.8 L741.3,406.6 L742.3,408.4 L743.1,410.3 L743.9,412.3 L744.5,414.3 L745.1,416.4 L745.5,418.6 L745.8,420.9 L745.9,423.2 L746.0,425.5 L745.9,427.9 L745.7,430.4"/>
<path d="M494.3,348.8 L495.4,351.2 L496.6,353.4 L497.9,355.6 L499.3,357.6 L500.7,359.5 L502.2,361.4 L503.8,363.2 L505.4,364.8 L507.0,366.4 L508.8,367.9 L510.6,369.3 L512.4,370.7 L514.3,372.0 L516.2,373.2 L518.1,374.3 L520.1,375.4 L522.2,376.5 L524.3,377.5 L526.4,378.4 L528.5,379.3 L530.6,380.1 L532.8,380.9 L535.0,381.7 L537.2,382.5 L539.5,383.2 L541.7,383.9 L544.0,384.5 L546.2,385.2 L548.5,385.8 L550.7,386.5 L553.0,387.1 L555.3,387.7 L557.5,388.3 L559.8,388.9 L562.1,389.5 L564.3,390.1 L566.6,390.7 L568.9,391.3 L571.1,391.8 L573.4,392.4 L575.7,392.9 L577.9,393.5 L580.2,394.0 L582.5,394.6 L584.7,395.1 L587.0,395.6 L589.3,396.1 L591.5,396.6 L593.8,397.1 L596.1,397.6 L598.4,398.0 L600.6,398.5 L602.9,399.0 L605.2,399.4 L607.5,399.9 L609.7,400.3 L612.0,400.7 L614.3,401.1 L616.6,401.6 L618.9,402.0 L621.1,402.4 L623.4,402.7 L625.7,403.1 L628.0,403.5 L630.3,403.9 L632.6,404.2 L634.9,404.6 L637.2,404.9 L639.5,405.2 L641.8,405.6 L644.0,405.9 L646.4,406.2 L648.7,406.5 L651.0,406.8 L653.3,407.0 L655.6,407.3 L657.9,407.6 L660.2,407.8 L662.5,408.1 L664.8,408.3 L667.1,408.5 L669.5,408.8 L671.8,409.0 L674.1,409.2 L676.4,409.4 L678.8,409.6 L681.1,409.7 L683.4,409.9 L685.8,410.1 L688.1,410.2 L690.5,410.4 L692.8,410.5 L695.2,410.6 L697.5,410.7 L699.9,410.8 L702.2,410.9 L704.6,411.0 L707.0,411.1 L709.3,411.2 L711.7,411.3 L714.0,411.4 L716.4,411.5 L718.8,411.6 L721.1,411.7 L723.5,411.8 L725.8,411.9 L728.2,412.0 L730.5,412.1 L732.9,412.3 L735.2,412.4 L737.6,412.6 L739.9,412.7 L742.3,412.9 L744.6,413.1 L746.9,413.3 L749.2,413.5 L751.6,413.8 L753.9,414.1 L756.2,414.3 L758.5,414.6 L760.8,415.0 L763.0,415.3 L765.3,415.7 L767.6,416.1 L769.9,416.6 L772.1,417.0 L774.4,417.5 L776.6,418.0 L778.8,418.6 L781.0,419.2 L783.2,419.8 L785.4,420.4 L787.6,421.1 L789.8,421.9 L792.0,422.6 L794.1,423.4 L796.3,424.3 L798.4,425.2 L800.5,426.1 L802.6,427.1 L804.7,428.1 L806.7,429.2 L808.7,430.4 L810.7,431.6 L812.5,433.0 L814.2,434.4 L815.7,436.1 L817.1,437.8 L818.3,439.7 L819.3,441.8 L820.1,444.1 L820.6,446.6 L820.8,449.3 L820.8,452.2 L820.8,455.0 L820.9,457.7 L821.2,460.1 L821.9,462.1 L823.1,463.5"/>
<path d="M533.1,381.6 L534.7,383.8 L536.4,385.9 L538.0,387.9 L539.8,389.9 L541.6,391.8 L543.4,393.6 L545.3,395.3 L547.2,397.0 L549.2,398.6 L551.2,400.1 L553.2,401.5 L555.3,402.9 L557.5,404.3 L559.6,405.5 L561.8,406.8 L564.0,407.9 L566.3,409.0 L568.6,410.1 L570.9,411.1 L573.2,412.1 L575.6,413.0 L578.0,413.9 L580.4,414.7 L582.8,415.5 L585.3,416.3 L587.7,417.1 L590.2,417.8 L592.7,418.5 L595.2,419.1 L597.7,419.8 L600.2,420.4 L602.7,421.0 L605.3,421.6 L607.8,422.1 L610.3,422.7 L612.8,423.2 L615.4,423.8 L617.9,424.3 L620.4,424.8 L623.0,425.3 L625.5,425.8 L628.0,426.3 L630.5,426.8 L633.1,427.3 L635.6,427.7 L638.1,428.2 L640.7,428.6 L643.2,429.1 L645.7,429.5 L648.2,429.9 L650.8,430.3 L653.3,430.7 L655.8,431.1 L658.4,431.5 L660.9,431.9 L663.4,432.2 L666.0,432.6 L668.5,433.0 L671.0,433.3 L673.5,433.7 L676.1,434.0 L678.6,434.3 L681.1,434.7 L683.7,435.0 L686.2,435.3 L688.7,435.6 L691.3,435.9 L693.8,436.2 L696.3,436.5 L698.9,436.8 L701.4,437.1 L703.9,437.4 L706.5,437.6 L709.0,437.9 L711.5,438.2 L714.1,438.4 L716.6,438.7 L719.2,438.9 L721.7,439.2 L724.2,439.4 L726.8,439.7 L729.3,439.9 L731.9,440.1 L734.4,440.4 L736.9,440.6 L739.5,440.8 L742.0,441.0 L744.6,441.3 L747.1,441.5 L749.7,441.7 L752.2,441.9 L754.8,442.1 L757.3,442.3 L759.8,442.5 L762.4,442.7 L764.9,442.9 L767.5,443.1 L770.1,443.3 L772.6,443.5 L775.2,443.7 L777.7,443.9 L780.3,444.1 L782.8,444.3 L785.4,444.5 L787.9,444.7 L790.5,444.9 L793.1,445.1 L795.6,445.3 L798.2,445.5 L800.8,445.7 L803.3,445.9 L805.9,446.1 L808.5,446.3 L811.0,446.5 L813.6,446.7 L816.2,446.9 L818.7,447.1 L821.3,447.3 L823.9,447.5 L826.5,447.8 L829.0,448.0 L831.6,448.2 L834.2,448.5 L836.8,448.7 L839.3,449.0 L841.9,449.3 L844.4,449.6 L847.0,450.0 L849.5,450.4 L852.1,450.8 L854.6,451.2 L857.1,451.7 L859.7,452.2 L862.2,452.8 L864.7,453.3 L867.1,454.0 L869.6,454.7 L872.1,455.4 L874.5,456.2 L876.9,457.1 L879.2,458.0 L881.5,459.1 L883.7,460.3 L885.8,461.6 L887.7,463.0 L889.6,464.6 L891.3,466.3 L892.9,468.1 L894.3,470.1 L895.6,472.2 L896.7,474.4 L897.7,476.7 L898.4,479.2 L899.0,481.7 L899.5,484.4 L899.7,487.1 L899.8,489.9 L899.7,492.7 L899.4,495.6"/>
</g>
<g fill="none" stroke="#d2262c" stroke-width="3.5" stroke-linejoin="round" stroke-linecap="butt">
<path d="M567.4,947.4 L167.7,967.5 L167.3,938.9 L169.7,936.4 L175.4,930.7 L179.2,925.8 L181.2,856.3 L184.4,901.3 L187.7,773.8 L191.8,921.7 L194.7,767.3 L202.4,965.9"/>
<path d="M607.6,976.1 L207.9,996.2 L207.5,982.0 L208.0,981.8 L208.4,981.6 L208.8,981.4 L209.2,981.1 L209.7,980.9 L210.1,980.7 L210.7,980.5 L211.3,980.2 L212.8,979.6 L214.7,979.0 L216.9,978.4 L219.2,977.7 L221.5,976.9 L223.8,976.2 L226.0,975.4 L228.0,974.6 L229.5,973.9 L231.0,973.3 L232.4,972.6 L233.8,972.0 L235.1,971.2 L236.4,970.5 L237.7,969.7 L238.9,968.8 L240.1,967.9 L241.4,966.9 L242.6,965.9 L243.8,964.8 L244.9,963.7 L245.9,962.5 L246.9,961.2 L247.8,959.9 L248.7,958.3 L249.4,956.7 L250.0,954.9 L250.6,953.1 L251.1,951.2 L251.5,949.2 L251.9,947.1 L252.3,945.0 L252.7,942.0 L253.0,938.8 L253.2,935.5 L253.3,932.1 L253.3,928.5 L253.4,924.8 L253.4,921.0 L253.5,917.0 L253.7,911.4 L253.8,905.4 L253.9,899.1 L254.0,892.6 L254.2,886.0 L254.3,879.3 L254.4,872.7 L254.5,866.3 L261.2,930.9 L264.9,908.7 L267.9,955.5 L270.8,945.8 L273.8,958.4 L279.0,959.2 L282.0,991.8"/>
<path d="M647.8,1004.7 L248.1,1024.8 L247.3,1017.8 L247.7,1017.7 L248.1,1017.6 L248.5,1017.6 L248.9,1017.5 L249.3,1017.4 L249.7,1017.3 L250.2,1017.2 L250.8,1017.1 L252.8,1016.7 L255.3,1016.1 L258.2,1015.5 L261.4,1014.8 L264.8,1014.1 L268.2,1013.3 L271.5,1012.6 L274.6,1011.9 L277.4,1011.3 L280.3,1010.7 L283.2,1010.2 L286.0,1009.7 L288.8,1009.1 L291.6,1008.4 L294.2,1007.6 L296.8,1006.7 L299.1,1005.7 L301.3,1004.7 L303.5,1003.6 L305.7,1002.5 L307.7,1001.2 L309.7,999.9 L311.5,998.5 L313.2,997.0 L314.6,995.6 L315.9,994.1 L317.1,992.5 L318.2,990.9 L319.3,989.2 L320.3,987.4 L321.2,985.6 L322.1,983.7 L323.1,981.3 L324.0,978.8 L324.8,976.1 L325.5,973.4 L326.2,970.6 L326.8,967.9 L327.4,965.3 L328.0,962.9 L328.4,961.1 L328.9,959.4 L329.2,957.7 L329.6,956.0 L329.9,954.4 L330.3,952.8 L330.6,951.2 L331.0,949.5 L334.0,945.0 L337.7,919.8 L340.6,968.8 L342.9,959.9 L347.3,1001.5 L352.0,1002.5 L355.5,1011.0 L359.2,1011.5 L361.3,1017.3"/>
<path d="M688.0,1033.4 L288.3,1053.5 L288.3,1048.5 L289.4,1048.4 L290.5,1048.3 L291.5,1048.2 L292.6,1048.1 L293.7,1048.0 L294.9,1047.9 L296.2,1047.8 L297.6,1047.6 L301.0,1047.2 L305.0,1046.6 L309.4,1046.0 L314.2,1045.4 L319.1,1044.6 L323.9,1043.9 L328.6,1043.1 L332.9,1042.3 L336.4,1041.6 L339.9,1041.0 L343.4,1040.3 L346.8,1039.6 L350.1,1038.8 L353.3,1038.0 L356.4,1037.1 L359.4,1036.2 L361.8,1035.4 L364.2,1034.5 L366.5,1033.6 L368.8,1032.6 L371.0,1031.6 L373.1,1030.5 L375.1,1029.4 L377.1,1028.2 L378.8,1027.1 L380.5,1025.9 L382.1,1024.7 L383.7,1023.4 L385.1,1022.1 L386.6,1020.7 L388.0,1019.2 L389.4,1017.6 L390.9,1015.7 L392.4,1013.6 L393.7,1011.4 L395.1,1009.1 L396.4,1006.7 L397.6,1004.4 L398.8,1002.2 L400.0,1000.0 L401.0,998.2 L401.9,996.4 L402.8,994.6 L403.6,992.9 L404.5,991.1 L405.3,989.4 L406.1,987.7 L407.0,985.9 L411.5,969.1 L415.0,994.7 L418.5,963.8 L421.2,1020.0 L425.9,1019.8 L427.9,1043.5"/>
<path d="M728.2,1062.0 L328.5,1082.1 L335.8,1080.8 L343.3,1079.5 L350.8,1078.2 L358.4,1076.8 L365.8,1075.5 L372.9,1074.3 L379.6,1073.1 L385.9,1072.0 L390.1,1071.3 L394.0,1070.7 L397.7,1070.1 L401.3,1069.5 L404.8,1069.0 L408.3,1068.4 L411.8,1067.7 L415.3,1067.0 L418.7,1066.3 L422.2,1065.6 L425.7,1064.9 L429.1,1064.1 L432.5,1063.3 L435.7,1062.3 L438.8,1061.2 L441.8,1060.0 L444.3,1058.7 L446.7,1057.4 L449.0,1055.9 L451.2,1054.3 L453.4,1052.7 L455.4,1051.0 L457.5,1049.3 L459.4,1047.6 L461.2,1045.9 L462.9,1044.2 L464.6,1042.5 L466.2,1040.6 L467.8,1038.8 L469.2,1037.0 L470.6,1035.2 L471.8,1033.5 L472.7,1032.1 L473.4,1030.8 L474.1,1029.5 L474.7,1028.2 L475.3,1026.9 L475.9,1025.5 L476.5,1024.2 L477.1,1022.9 L481.5,1024.7 L484.1,1014.1 L486.8,1026.5 L491.2,1020.3 L494.7,1039.7 L498.2,1030.9 L501.2,1060.0 L505.3,1062.5 L508.1,1070.4"/>
<path d="M768.3,1090.7 L368.6,1110.8 L377.6,1110.1 L386.8,1109.4 L395.9,1108.8 L405.0,1108.1 L414.1,1107.4 L423.0,1106.6 L431.6,1105.6 L440.0,1104.5 L447.1,1103.3 L454.1,1102.0 L460.9,1100.6 L467.7,1099.1 L474.2,1097.6 L480.7,1096.0 L486.9,1094.4 L492.9,1092.9 L497.7,1091.7 L502.5,1090.5 L507.1,1089.3 L511.7,1088.0 L516.0,1086.8 L520.3,1085.4 L524.3,1084.0 L528.2,1082.4 L531.2,1081.0 L534.2,1079.6 L537.1,1078.2 L539.8,1076.7 L542.4,1075.1 L544.9,1073.4 L547.2,1071.8 L549.4,1070.0 L551.0,1068.5 L552.5,1066.9 L553.8,1065.2 L555.1,1063.6 L556.3,1061.9 L557.5,1060.2 L558.7,1058.5 L560.0,1056.8 L563.5,1057.6 L567.9,1053.2 L571.5,1060.3 L575.0,1062.9 L578.5,1073.5 L582.0,1075.3 L585.0,1091.2 L590.8,1099.6"/>
<path d="M808.5,1119.4 L408.8,1139.5 L421.8,1138.4 L435.1,1137.5 L448.5,1136.5 L461.8,1135.6 L474.9,1134.6 L487.5,1133.5 L499.5,1132.3 L510.6,1131.0 L518.1,1129.9 L525.3,1128.8 L532.2,1127.7 L538.9,1126.5 L545.3,1125.3 L551.5,1124.0 L557.5,1122.6 L563.5,1121.2 L568.4,1120.0 L573.1,1118.7 L577.8,1117.4 L582.3,1116.1 L586.7,1114.7 L590.9,1113.4 L594.9,1112.0 L598.8,1110.6 L601.6,1109.6 L604.3,1108.6 L606.8,1107.6 L609.2,1106.6 L611.6,1105.5 L614.0,1104.4 L616.4,1103.2 L618.8,1101.8 L621.5,1100.1 L624.2,1098.3 L626.8,1096.3 L629.5,1094.3 L632.1,1092.1 L634.7,1090.0 L637.4,1087.9 L640.0,1085.9 L643.5,1089.4 L649.7,1091.2 L651.5,1102.6 L657.6,1112.4 L666.5,1124.7"/>
<path d="M848.7,1148.0 L449.0,1168.1 L465.7,1166.8 L482.7,1165.5 L499.9,1164.3 L517.1,1163.0 L533.9,1161.7 L550.1,1160.3 L565.6,1158.7 L580.0,1157.0 L590.0,1155.6 L599.6,1154.2 L608.9,1152.7 L617.8,1151.1 L626.4,1149.5 L634.7,1147.8 L642.8,1146.0 L650.6,1144.1 L656.7,1142.5 L662.7,1140.8 L668.5,1139.0 L674.2,1137.2 L679.6,1135.4 L684.9,1133.6 L689.9,1131.8 L694.7,1130.0 L698.2,1128.7 L701.4,1127.3 L704.5,1126.0 L707.5,1124.7 L710.5,1123.4 L713.4,1122.0 L716.4,1120.7 L719.4,1119.4 L726.8,1124.8 L727.3,1126.3 L727.7,1127.9 L728.1,1129.4 L728.5,1130.9 L729.0,1132.5 L729.4,1134.0 L730.0,1135.5 L730.6,1137.0 L731.3,1138.6 L732.1,1140.2 L733.0,1141.8 L733.8,1143.4 L734.8,1145.0 L735.7,1146.4 L736.7,1147.7 L737.6,1148.8 L738.2,1149.4 L738.9,1150.0 L739.6,1150.4 L740.2,1150.8 L740.9,1151.2 L741.6,1151.6 L742.2,1152.0 L742.9,1152.4"/>
<path d="M888.9,1176.7 L489.2,1196.8 L503.3,1195.8 L517.5,1194.8 L531.9,1193.9 L546.3,1192.9 L560.4,1192.0 L574.2,1190.9 L587.4,1189.8 L600.0,1188.6 L609.4,1187.6 L618.4,1186.5 L627.2,1185.3 L635.7,1184.1 L644.1,1182.9 L652.2,1181.7 L660.2,1180.6 L668.2,1179.4 L675.1,1178.4 L681.8,1177.5 L688.5,1176.6 L695.0,1175.6 L701.4,1174.7 L707.7,1173.7 L713.9,1172.6 L720.0,1171.5 L725.3,1170.4 L730.5,1169.3 L735.5,1168.1 L740.5,1166.8 L745.5,1165.6 L750.4,1164.4 L755.2,1163.2 L760.0,1162.0 L764.4,1161.0 L768.7,1160.0 L773.0,1159.0 L777.2,1158.0 L781.4,1157.0 L785.6,1156.1 L789.9,1155.1 L794.1,1154.1 L795.4,1155.0 L796.8,1155.8 L798.2,1156.7 L799.6,1157.5 L801.0,1158.4 L802.3,1159.3 L803.5,1160.2 L804.7,1161.2 L805.7,1162.2 L806.7,1163.2 L807.6,1164.3 L808.5,1165.4 L809.4,1166.6 L810.2,1167.7 L811.0,1168.9 L811.8,1170.0 L812.5,1171.1 L813.2,1172.2 L813.9,1173.3 L814.5,1174.4 L815.2,1175.5 L815.8,1176.6 L816.4,1177.7 L817.1,1178.8"/>
<path d="M929.1,1205.3 L529.4,1225.4 L538.1,1224.8 L546.6,1224.2 L555.1,1223.6 L563.5,1223.0 L572.2,1222.4 L581.0,1221.7 L590.3,1221.0 L600.0,1220.3 L613.7,1219.3 L628.5,1218.3 L644.1,1217.3 L660.0,1216.2 L676.0,1215.0 L691.5,1213.7 L706.3,1212.3 L720.0,1210.6 L729.7,1209.1 L739.0,1207.6 L747.9,1205.9 L756.5,1204.1 L765.0,1202.3 L773.4,1200.5 L781.9,1198.7 L790.6,1197.0 L799.4,1195.4 L808.2,1193.7 L817.1,1192.1 L825.9,1190.5 L834.7,1188.9 L843.5,1187.3 L852.4,1185.7 L861.2,1184.1 L862.8,1184.3 L864.4,1184.4 L866.0,1184.4 L867.6,1184.5 L869.2,1184.6 L870.7,1184.9 L872.1,1185.3 L873.5,1185.9 L874.8,1186.8 L876.0,1188.0 L877.0,1189.3 L878.0,1190.8 L879.0,1192.3 L880.1,1193.8 L881.2,1195.2 L882.4,1196.5 L883.8,1197.7 L885.3,1198.9 L886.8,1200.0 L888.4,1201.0 L890.0,1202.1 L891.6,1203.2 L893.1,1204.2 L894.7,1205.3"/>
</g>
<g fill="#262626" font-size="26" opacity="0.999">
<g text-anchor="end">
<text x="100.3" y="258.3">0</text>
<text x="173.5" y="310.3">5</text>
<text x="245.6" y="361.8">10</text>
<text x="318.3" y="414">15</text>
<text x="391.4" y="466.2">20</text>
<text x="464.5" y="518.1">25</text>
<text x="538" y="570.4">30</text>
</g>
<g text-anchor="middle">
<text x="587.5" y="582.5">0</text>
<text x="732.5" y="575">10</text>
<text x="867.5" y="568.3">20</text>
<text x="1002.2" y="561.7">30</text>
</g>
<text x="45.5" y="173.3">10<tspan font-size="21" dy="-13">-15</tspan></text>
<g font-size="28.5">
<text transform="translate(24.1,231.3) rotate(-90)">Probability (a.u.)</text>
<g transform="translate(123,449.5) rotate(39.5)">
<text x="0" y="0">RE energy (E</text>
<text x="178.6" y="0">) (MeV)</text>
<line x1="172.7" y1="-12.8" x2="176.4" y2="-24.1" stroke="#262626" stroke-width="1.9"/>
</g>
<g transform="translate(547,617.2)">
<text x="0" y="0">Emitted photon energy (E</text>
<text x="341.6" y="0">) (MeV)</text>
<line x1="325.7" y1="-16.1" x2="330.5" y2="-25.9" stroke="#262626" stroke-width="1.9"/>
<line x1="333.6" y1="-16.1" x2="338.4" y2="-25.9" stroke="#262626" stroke-width="1.9"/>
</g>
</g>

<g transform="translate(-2.8,708.4)">
<g text-anchor="end">
<text x="100.3" y="258.3">0</text>
<text x="173.5" y="310.3">5</text>
<text x="245.6" y="361.8">10</text>
<text x="318.3" y="414">15</text>
<text x="391.4" y="466.2">20</text>
<text x="464.5" y="518.1">25</text>
<text x="538" y="570.4">30</text>
</g>
<g text-anchor="middle">
<text x="587.5" y="582.5">0</text>
<text x="732.5" y="575">10</text>
<text x="867.5" y="568.3">20</text>
<text x="1002.2" y="561.7">30</text>
</g>
</g>
<g text-anchor="end">
<text x="101" y="771.6">0.2</text>
<text x="100.5" y="854.7">0.1</text>
<text x="100.5" y="936.8">0</text>
</g>
<g font-size="28.5">
<text transform="translate(47.3,940.7) rotate(-90)">Probability (a.u.)</text>
<g transform="translate(43.2,1095.8) rotate(40)">
<text x="0" y="0">Incoming photon energy (E</text>
<text x="366.2" y="0">)</text>
<line x1="343.8" y1="-13.4" x2="347.4" y2="-23.9" stroke="#262626" stroke-width="1.9"/>
<line x1="359.5" y1="-14" x2="364" y2="-24.7" stroke="#262626" stroke-width="1.9"/>
</g>
<text x="760.55" y="1325.7" text-anchor="middle">Absorbed photon energy (E) (MeV)</text>
</g>
</g>

</g>
</svg></body></html>
